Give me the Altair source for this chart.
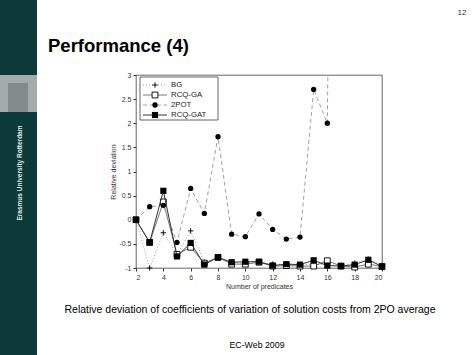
import altair as alt
import pandas as pd

# ---- data ----
X = list(range(2, 21))
BG = [0, -1.0, -0.27, -0.72, -0.23, -0.88, -0.77, -0.9, -0.9, -0.88, -0.92, -0.93, -0.93, -0.92, -0.93, -0.95, -0.9, -0.82, -0.95]
RCQ_GA = [0, -0.47, 0.37, -0.72, -0.57, -0.9, -0.78, -0.92, -0.92, -0.88, -0.96, -0.95, -0.96, -0.96, -0.85, -0.96, -0.98, -0.92, -0.97]
POT = [0, 0.27, 0.3, -0.47, 0.65, 0.13, 1.72, -0.3, -0.35, 0.12, -0.2, -0.4, -0.36, 2.7, 2.0, 30, 25, 28, 26]
RCQ_GAT = [0, -0.47, 0.6, -0.76, -0.48, -0.93, -0.78, -0.88, -0.87, -0.87, -0.95, -0.92, -0.93, -0.84, -0.95, -0.96, -0.93, -0.83, -0.97]
LEGEND = ["BG", "RCQ-GA", "2POT", "RCQ-GAT"]
Y_TICKS = [-1, -0.5, 0, 0.5, 1, 1.5, 2, 2.5, 3]
X_TICKS = [2, 4, 6, 8, 10, 12, 14, 16, 18, 20]

TITLE = "Performance (4)"
CAPTION = "Relative deviation of coefficients of variation of solution costs from 2PO average"
FOOTER = "EC-Web 2009"
PAGE = "12"
SIDEBAR = "Erasmus University Rotterdam"

FONT = "Liberation Sans"
PLUS = "M-1,0L1,0M0,-1L0,1"

xs = alt.Scale(domain=[2, 20], nice=False, zero=False)
ys = alt.Scale(domain=[-1, 3], nice=False, zero=False)
xenc = alt.X("x:Q", scale=xs, axis=alt.Axis(values=X_TICKS, title="Number of predicates",
                                              labelExpr="datum.value"))
yenc = alt.Y("y:Q", scale=ys, axis=alt.Axis(values=Y_TICKS, title="Relative deviation",
                                              labelExpr="datum.value"))

styles = {
    "BG": dict(line=dict(color="#9a9a9a", strokeDash=[1, 2], strokeWidth=1),
               point=dict(shape=PLUS, filled=False, color="black", size=30, strokeWidth=0.9)),
    "RCQ-GA": dict(line=dict(color="#777777", strokeWidth=1),
                   point=dict(shape="square", filled=True, fill="white", stroke="black", size=34, strokeWidth=0.9)),
    "2POT": dict(line=dict(color="#a0a0a0", strokeDash=[4, 3], strokeWidth=1),
                 point=dict(shape="circle", filled=True, color="black", size=28)),
    "RCQ-GAT": dict(line=dict(color="#333333", strokeWidth=1),
                    point=dict(shape="square", filled=True, color="black", size=38)),
}
series = {"BG": BG, "RCQ-GA": RCQ_GA, "2POT": POT, "RCQ-GAT": RCQ_GAT}

layers = []
one = pd.DataFrame({"a": [0]})

# sidebar
layers.append(alt.Chart(one).mark_rect(color="#0b3a38").encode(
    x=alt.value(-136), x2=alt.value(-99), y=alt.value(-75), y2=alt.value(280)))
layers.append(alt.Chart(one).mark_rect(color="#a3abab").encode(
    x=alt.value(-136), x2=alt.value(-99), y=alt.value(0), y2=alt.value(37)))
layers.append(alt.Chart(one).mark_rect(color="#7b8585", opacity=0.8).encode(
    x=alt.value(-128), x2=alt.value(-108), y=alt.value(8), y2=alt.value(37)))
layers.append(alt.Chart(one).mark_text(angle=270, font=FONT, fontSize=6.5, fontWeight="bold",
                                       color="#e8eeee").encode(
    x=alt.value(-116), y=alt.value(98), text=alt.value(SIDEBAR)))

# slide texts
layers.append(alt.Chart(one).mark_text(font=FONT, fontSize=18.5, fontWeight="bold", align="left",
                                       baseline="alphabetic", color="black").encode(
    x=alt.value(-88), y=alt.value(-23), text=alt.value(TITLE)))
layers.append(alt.Chart(one).mark_text(font=FONT, fontSize=8, align="center", color="#333").encode(
    x=alt.value(326), y=alt.value(-62), text=alt.value(PAGE)))
layers.append(alt.Chart(one).mark_text(font=FONT, fontSize=10.5, align="center", color="black").encode(
    x=alt.value(114), y=alt.value(235), text=alt.value(CAPTION)))
layers.append(alt.Chart(one).mark_text(font=FONT, fontSize=8.8, align="center", color="black").encode(
    x=alt.value(121), y=alt.value(270), text=alt.value(FOOTER)))

# data series
for name, vals in series.items():
    df = pd.DataFrame({"x": X, "y": vals})
    st = styles[name]
    layers.append(alt.Chart(df).mark_line(clip=True, **st["line"]).encode(x=xenc, y=yenc))
    layers.append(alt.Chart(df).transform_filter("datum.y <= 3").mark_point(opacity=1, **st["point"]).encode(
        x=xenc, y=yenc))

# legend
layers.append(alt.Chart(one).mark_rect(fill="white", stroke="#222", strokeWidth=0.7).encode(
    x=alt.value(4), x2=alt.value(82), y=alt.value(2), y2=alt.value(45)))
for i, name in enumerate(LEGEND):
    yy = 10 + 10 * i
    st = styles[name]
    layers.append(alt.Chart(one).mark_rule(**st["line"]).encode(
        x=alt.value(7), x2=alt.value(31), y=alt.value(yy)))
    layers.append(alt.Chart(one).mark_point(opacity=1, **st["point"]).encode(
        x=alt.value(19), y=alt.value(yy)))
    layers.append(alt.Chart(one).mark_text(font=FONT, fontSize=7.8, align="left", color="#222").encode(
        x=alt.value(35), y=alt.value(yy), text=alt.value(name)))

chart = alt.layer(*layers).properties(
    width=246, height=193,
    autosize=alt.AutoSizeParams(type="none"),
    padding={"left": 136, "top": 75, "right": 92, "bottom": 87},
    background="white",
).configure_view(stroke="#222", strokeWidth=0.7).configure_axis(
    labelFont=FONT, titleFont=FONT, labelFontSize=7, titleFontSize=7, labelColor="#333",
    titleColor="#333", titleFontWeight="normal", grid=False, domain=False, tickColor="#333",
    tickSize=3, labelPadding=2, titlePadding=2,
)

chart.save("out.html", embed_options={"renderer": "svg", "actions": False})
